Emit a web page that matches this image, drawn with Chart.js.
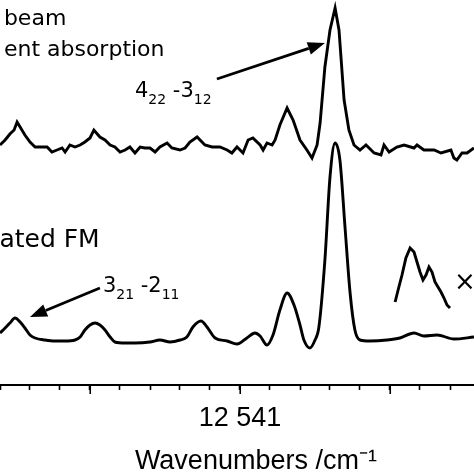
<!DOCTYPE html>
<html><head><meta charset="utf-8">
<script src="https://cdn.jsdelivr.net/npm/chart.js@4.4.1/dist/chart.umd.min.js"></script>
<style>html,body{margin:0;padding:0;background:#fff;}#wrap{width:474px;height:474px;}</style>
</head><body><div id="wrap"><canvas id="c" width="474" height="474"></canvas></div>
<script>
// Two-beam coherent absorption trace (upper)
const wnTop = [12540.200,12540.217,12540.233,12540.247,12540.257,12540.267,12540.283,12540.300,12540.317,12540.333,12540.357,12540.373,12540.390,12540.407,12540.417,12540.433,12540.450,12540.467,12540.483,12540.500,12540.513,12540.533,12540.550,12540.567,12540.583,12540.600,12540.617,12540.633,12540.650,12540.667,12540.683,12540.700,12540.717,12540.733,12540.757,12540.773,12540.800,12540.817,12540.833,12540.857,12540.883,12540.907,12540.933,12540.957,12540.973,12540.990,12541.010,12541.027,12541.043,12541.067,12541.077,12541.090,12541.107,12541.117,12541.133,12541.157,12541.177,12541.200,12541.223,12541.240,12541.257,12541.267,12541.283,12541.300,12541.317,12541.330,12541.347,12541.363,12541.380,12541.400,12541.420,12541.437,12541.447,12541.470,12541.480,12541.497,12541.523,12541.547,12541.580,12541.590,12541.613,12541.647,12541.670,12541.703,12541.713,12541.723,12541.740,12541.757,12541.780];
const absTop = [2.40,2.45,2.51,2.55,2.63,2.58,2.50,2.43,2.38,2.38,2.38,2.33,2.35,2.37,2.33,2.40,2.38,2.40,2.43,2.47,2.55,2.48,2.45,2.40,2.38,2.33,2.35,2.38,2.32,2.38,2.37,2.37,2.33,2.38,2.42,2.37,2.35,2.37,2.43,2.48,2.40,2.38,2.38,2.35,2.32,2.38,2.32,2.45,2.47,2.40,2.35,2.42,2.40,2.45,2.60,2.77,2.65,2.45,2.35,2.27,2.40,2.62,3.18,3.55,3.77,3.55,2.85,2.55,2.40,2.35,2.40,2.35,2.32,2.30,2.40,2.33,2.38,2.40,2.37,2.40,2.35,2.35,2.32,2.35,2.27,2.25,2.32,2.32,2.37];
// Modulated FM trace (lower)
const wnFM = [12540.200,12540.217,12540.233,12540.250,12540.267,12540.283,12540.300,12540.317,12540.350,12540.383,12540.417,12540.450,12540.467,12540.483,12540.500,12540.517,12540.533,12540.550,12540.567,12540.583,12540.617,12540.650,12540.700,12540.733,12540.767,12540.800,12540.823,12540.843,12540.870,12540.890,12540.917,12540.957,12540.990,12541.023,12541.050,12541.067,12541.090,12541.110,12541.133,12541.157,12541.180,12541.200,12541.213,12541.233,12541.250,12541.263,12541.283,12541.300,12541.317,12541.333,12541.350,12541.367,12541.383,12541.400,12541.433,12541.490,12541.533,12541.580,12541.613,12541.657,12541.713,12541.780];
const sigFM = [0.52,0.57,0.62,0.67,0.63,0.57,0.50,0.47,0.45,0.44,0.44,0.45,0.48,0.55,0.60,0.62,0.60,0.55,0.48,0.43,0.42,0.42,0.43,0.45,0.43,0.45,0.48,0.58,0.64,0.58,0.47,0.44,0.41,0.47,0.52,0.49,0.40,0.50,0.75,0.92,0.80,0.60,0.45,0.37,0.45,0.58,1.25,2.08,2.42,2.25,1.58,0.92,0.55,0.45,0.44,0.45,0.47,0.52,0.49,0.50,0.46,0.48];
// Magnified inset of the lower trace
const wnInset = [12541.517,12541.527,12541.540,12541.553,12541.567,12541.580,12541.590,12541.600,12541.610,12541.620,12541.630,12541.640,12541.650,12541.660,12541.670,12541.680,12541.690,12541.700];
const sigInset = [0.83,0.95,1.10,1.27,1.37,1.33,1.23,1.13,1.05,1.10,1.18,1.13,1.03,0.98,0.93,0.87,0.80,0.77];
// Axis ticks
const xMin = 12540.2, xMax = 12541.78, minorStep = 0.1;
const majorTicks = [12540.5, 12541, 12541.5];
const tickLabels = {"12541": "12 541"};

const pts = (xs, ys) => xs.map((x, i) => ({x, y: ys[i]}));
const FONT = "'DejaVu Sans', sans-serif";

const annotations = {
  id: 'annotations',
  afterDraw(chart) {
    const {ctx, scales: {x, y}, chartArea} = chart;
    const X = v => x.getPixelForValue(v), Y = v => y.getPixelForValue(v);
    ctx.save();
    ctx.fillStyle = '#000'; ctx.strokeStyle = '#000';
    // longer major tick marks
    ctx.lineWidth = 1.6;
    majorTicks.forEach(t => {
      const px = Math.round(X(t)) + 0.25;
      ctx.beginPath(); ctx.moveTo(px, chartArea.bottom); ctx.lineTo(px, chartArea.bottom + 9); ctx.stroke();
    });
    // plain labels
    ctx.textBaseline = 'alphabetic'; ctx.textAlign = 'left';
    ctx.font = '22px ' + FONT;
    ctx.fillText('beam', X(12540.213), Y(3.60));
    ctx.fillText('ent absorption', X(12540.213), Y(3.29));
    ctx.font = '25px ' + FONT;
    ctx.fillText('ated FM', X(12540.198), Y(1.38));
    // labels with subscripts
    const sub = (parts, x0, yb) => {
      let cx = x0;
      parts.forEach(([t, s]) => {
        ctx.font = (s ? '14px ' : '21px ') + FONT;
        ctx.fillText(t, cx, yb + (s ? 7 : 0));
        cx += ctx.measureText(t).width;
      });
    };
    sub([['4', 0], ['22', 1], [' -3', 0], ['12', 1]], X(12540.650), Y(2.88));
    sub([['3', 0], ['21', 1], [' -2', 0], ['11', 1]], X(12540.543), Y(0.93));
    // arrows
    const arrow = (x1, y1, x2, y2) => {
      const a = Math.atan2(y2 - y1, x2 - x1), L = 17, W = 6.5;
      const bx = x2 - L * Math.cos(a), by = y2 - L * Math.sin(a);
      ctx.lineWidth = 2.8;
      ctx.beginPath(); ctx.moveTo(x1, y1); ctx.lineTo(bx, by); ctx.stroke();
      ctx.beginPath(); ctx.moveTo(x2, y2);
      ctx.lineTo(bx + W * Math.sin(a), by - W * Math.cos(a));
      ctx.lineTo(bx - W * Math.sin(a), by + W * Math.cos(a));
      ctx.closePath(); ctx.fill();
    };
    arrow(X(12540.923), Y(3.06), X(12541.283), Y(3.42));
    arrow(X(12540.533), Y(0.97), X(12540.300), Y(0.68));
    // magnification sign
    ctx.textAlign = 'center'; ctx.textBaseline = 'middle';
    ctx.font = '26px ' + FONT;
    ctx.fillText('×', X(12541.750), Y(1.02));
    // axis title
    ctx.font = "27px 'Liberation Sans', sans-serif";
    ctx.fillText('Wavenumbers /cm⁻¹', X(12541.053), Y(-0.77));
    ctx.restore();
  }
};

const line = (data, cubic) => ({
  data, borderColor: '#000', borderWidth: 2.9, pointRadius: 0, fill: false,
  tension: cubic ? 0.4 : 0, cubicInterpolationMode: cubic ? 'monotone' : 'default'
});

new Chart(document.getElementById('c'), {
  type: 'line',
  data: { datasets: [line(pts(wnTop, absTop), false), line(pts(wnFM, sigFM), true), line(pts(wnInset, sigInset), false)] },
  options: {
    responsive: false, animation: false,
    layout: { padding: 0 },
    plugins: { legend: { display: false }, tooltip: { enabled: false } },
    scales: {
      x: {
        type: 'linear', min: xMin, max: xMax,
        afterFit: s => { s.height = 89; s.paddingLeft = 0; s.paddingRight = 0; },
        ticks: {
          stepSize: minorStep, includeBounds: false, autoSkip: false, maxRotation: 0, padding: 12,
          color: '#000', font: { family: "'Liberation Sans', sans-serif", size: 27 },
          callback: v => tickLabels[String(Math.round(v * 1000) / 1000)] || ''
        },
        grid: { drawOnChartArea: false, tickLength: 5, tickColor: '#000', tickWidth: 1.6 },
        border: { color: '#000', width: 2 }
      },
      y: { display: false, min: 0, max: 3.85 }
    }
  },
  plugins: [annotations]
});
</script></body></html>
